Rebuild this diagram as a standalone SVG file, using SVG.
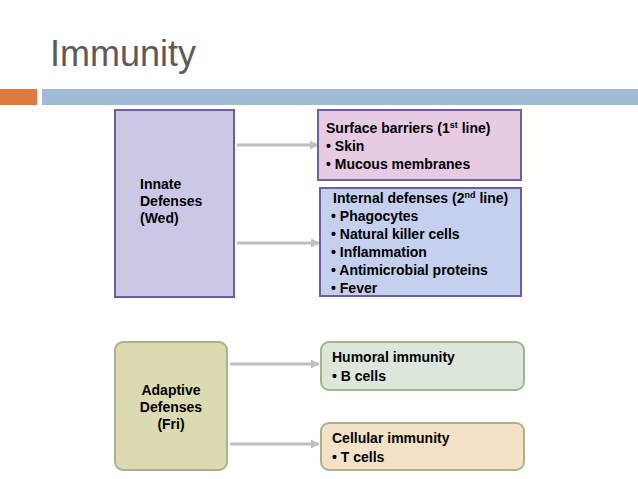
<svg xmlns="http://www.w3.org/2000/svg" width="638" height="479" viewBox="0 0 638 479">
<defs>
<style>
text{font-family:"Liberation Sans",Arial,sans-serif;fill:#000}
.b{font-weight:bold;font-size:14px}
.t{font-size:14px;font-weight:bold}
.c{stroke:#c0c0c0;stroke-width:3;fill:none}
</style>
<marker id="ar" viewBox="0 0 10 10" refX="9" refY="5" markerWidth="3" markerHeight="3" orient="auto"><path d="M0,0L10,5L0,10z" fill="#c0c0c0"/></marker>
</defs>
<rect width="638" height="479" fill="#fff"/>
<text x="50" y="66" style="font-size:36px;fill:#5b5b5b">Immunity</text>
<rect x="0" y="89" width="37" height="16" fill="#de7a3f"/>
<rect x="42" y="89" width="596" height="16" fill="#9fbbd5"/>
<g id="connectors">
<line class="c" x1="237" y1="145" x2="318" y2="145" marker-end="url(#ar)"/>
<line class="c" x1="237" y1="243" x2="319" y2="243" marker-end="url(#ar)"/>
<line class="c" x1="230" y1="364" x2="319" y2="364" marker-end="url(#ar)"/>
<line class="c" x1="230" y1="444" x2="319" y2="444" marker-end="url(#ar)"/>
</g>
<g id="innate">
<rect x="115" y="110" width="119" height="187" fill="#cbc8e6" stroke="#6a5fa0" stroke-width="2"/>
<text class="b" x="140" y="189">Innate</text>
<text class="b" x="140" y="206">Defenses</text>
<text class="b" x="140" y="223">(Wed)</text>
</g>
<g id="surface">
<rect x="318" y="110" width="203" height="70" fill="#e6cbe2" stroke="#6a5fa0" stroke-width="2"/>
<text class="t" x="326" y="133">Surface barriers (1<tspan font-size="9" dy="-5">st</tspan><tspan dy="5"> line)</tspan></text>
<text class="t" x="326" y="151">• Skin</text>
<text class="t" x="326" y="169">• Mucous membranes</text>
</g>
<g id="internal">
<rect x="320" y="188" width="201" height="108" fill="#c4d0ee" stroke="#6a5fa0" stroke-width="2"/>
<text class="t" x="333" y="203">Internal defenses (2<tspan font-size="9" dy="-5">nd</tspan><tspan dy="5"> line)</tspan></text>
<text class="t" x="331" y="221">• Phagocytes</text>
<text class="t" x="331" y="239">• Natural killer cells</text>
<text class="t" x="331" y="257">• Inflammation</text>
<text class="t" x="331" y="275">• Antimicrobial proteins</text>
<text class="t" x="331" y="293">• Fever</text>
</g>
<g id="adaptive">
<rect x="115" y="342" width="112" height="128" rx="8" fill="#dcdab2" stroke="#a5b48a" stroke-width="2"/>
<text class="b" x="171" y="395" text-anchor="middle">Adaptive</text>
<text class="b" x="171" y="412" text-anchor="middle">Defenses</text>
<text class="b" x="171" y="429" text-anchor="middle">(Fri)</text>
</g>
<g id="humoral">
<rect x="321" y="342" width="203" height="48" rx="8" fill="#dde6da" stroke="#a5b48a" stroke-width="2"/>
<text class="t" x="332" y="362">Humoral immunity</text>
<text class="t" x="332" y="381">• B cells</text>
</g>
<g id="cellular">
<rect x="321" y="423" width="203" height="47" rx="8" fill="#f4e1c6" stroke="#a5b48a" stroke-width="2"/>
<text class="t" x="332" y="443">Cellular immunity</text>
<text class="t" x="332" y="462">• T cells</text>
</g>
</svg>
